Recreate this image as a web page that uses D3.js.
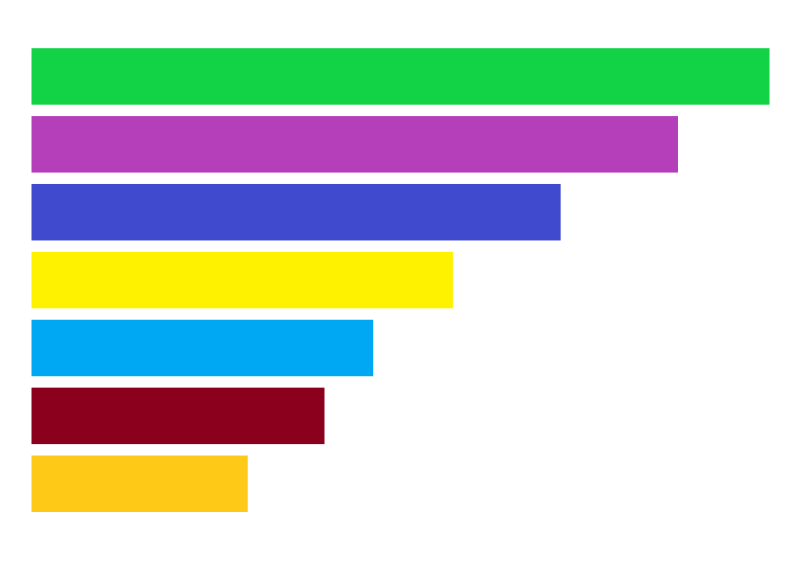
<!DOCTYPE html>
<html><head><meta charset="utf-8">
<script src="https://cdn.jsdelivr.net/npm/d3@7"></script>
<style>html,body{margin:0;padding:0;background:#fff;}svg{display:block;}</style>
</head><body>
<svg id="chart" width="800" height="572"></svg>
<script>
const categories = ["A", "B", "C", "D", "E", "F", "G"];
const values = [100, 87.6, 71.7, 57.1, 46.3, 39.7, 29.3];
const colors = ["#12D246", "#B53FBA", "#3F4ACE", "#FFF200", "#00A8F3", "#8A001D", "#FFC918"];

const svg = d3.select("#chart");
const x = d3.scaleLinear().domain([0, 100]).range([31.5, 769.5]);
const y = d3.scaleBand().domain(categories).range([48.2, 512]).paddingInner(0.168).paddingOuter(0);
const data = categories.map((c, i) => ({c, v: values[i], col: colors[i]}));

svg.append("g").selectAll("rect").data(data).join("rect")
  .attr("x", x(0))
  .attr("y", d => y(d.c))
  .attr("width", d => x(d.v) - x(0))
  .attr("height", y.bandwidth())
  .attr("fill", d => d.col);
</script>
</body></html>
